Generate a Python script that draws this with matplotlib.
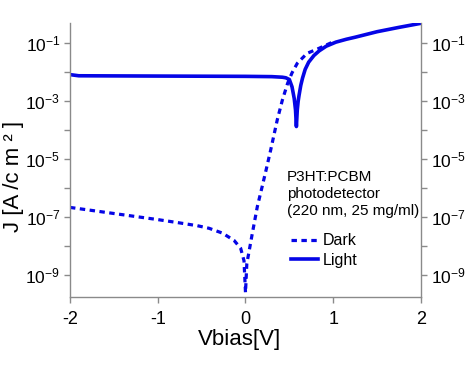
import matplotlib
matplotlib.use('Agg')
import matplotlib.pyplot as plt
import numpy as np
from matplotlib.ticker import FixedLocator, FixedFormatter, NullFormatter
from matplotlib.lines import Line2D

# ---- data ----
dark_v = [-2.0, -1.5, -1.0, -0.76, -0.55, -0.415, -0.26, -0.13, -0.055, -0.017, 0.0,
          0.015, 0.04, 0.078, 0.135, 0.19, 0.24, 0.287, 0.362, 0.42, 0.48, 0.53,
          0.59, 0.70, 0.84, 1.0]
dark_logj = [-6.66, -6.87, -7.08, -7.19, -7.29, -7.38, -7.55, -7.80, -8.07, -8.50, -9.60,
             -8.60, -8.19, -7.55, -6.63, -5.94, -5.30, -4.68, -3.64, -2.96, -2.38, -2.02,
             -1.69, -1.35, -1.17, -0.95]
light_v = [-2.0, -1.9, -1.0, 0.0, 0.30, 0.42, 0.46, 0.50, 0.53, 0.555, 0.57, 0.58,
           0.59, 0.60, 0.61, 0.63, 0.65, 0.68, 0.72, 0.78, 0.84, 0.92, 1.03, 1.15, 1.25,
           1.50, 1.75, 2.0]
light_logj = [-2.08, -2.12, -2.13, -2.14, -2.15, -2.17, -2.19, -2.25, -2.50, -2.90, -3.30, -3.87,
              -3.30, -3.00, -2.80, -2.45, -2.20, -1.90, -1.65, -1.42, -1.26, -1.10, -0.96, -0.86, -0.79,
              -0.60, -0.45, -0.31]
x_ticks = [-2, -1, 0, 1, 2]
x_ticklabels = ['-2', '-1', '0', '1', '2']
y_major_exp = [-9, -7, -5, -3, -1]
y_minor_exp = [-8, -6, -4, -2]
legend_labels = ['Dark', 'Light']
note_text = 'P3HT:PCBM\nphotodetector\n(220 nm, 25 mg/ml)'

dark_j = [10.0 ** e for e in dark_logj]
light_j = [10.0 ** e for e in light_logj]

plt.rcParams['font.family'] = ['Liberation Sans', 'DejaVu Sans']
plt.rcParams['mathtext.fontset'] = 'custom'
plt.rcParams['mathtext.rm'] = 'Liberation Sans'
plt.rcParams['mathtext.it'] = 'Liberation Sans'
plt.rcParams['mathtext.default'] = 'regular'

blue = '#0505e6'
gray = '#8a8a8a'

fig = plt.figure(figsize=(4.74, 3.65), dpi=100)
ax = fig.add_axes([70/474, 1-297.3/365, (421-70)/474, (297.3-23)/365])

ax.plot(dark_v, dark_j, color=blue, lw=2.3, dashes=(1.7, 1.4), solid_capstyle='butt')
ax.plot(light_v, light_j, color=blue, lw=2.6)

ax.set_yscale('log')
ax.set_xlim(-2, 2)
ax.set_ylim(10**-9.76, 10**-0.3)

ax.xaxis.set_major_locator(FixedLocator(x_ticks))
ax.xaxis.set_major_formatter(FixedFormatter(x_ticklabels))
ax.yaxis.set_major_locator(FixedLocator([10.0**e for e in y_major_exp]))
ax.yaxis.set_major_formatter(FixedFormatter(['10$^{%d}$' % e for e in y_major_exp]))
ax.yaxis.set_minor_locator(FixedLocator([10.0**e for e in y_minor_exp]))
ax.yaxis.set_minor_formatter(NullFormatter())

for s in ['left', 'bottom', 'right']:
    ax.spines[s].set_color(gray)
    ax.spines[s].set_linewidth(1.0)
ax.spines['top'].set_visible(False)

ax.tick_params(axis='both', which='both', direction='out', color=gray, width=1.0,
               length=4, labelsize=12.5, labelcolor='black')
ax.tick_params(axis='y', which='both', left=True, right=True, labelleft=True,
               labelright=True, pad=3)
ax.tick_params(axis='x', pad=6, labelsize=13)

fig.text(14/474, 1-176/365, 'J [A /c m ² ]', rotation=90, ha='center', va='center',
         fontsize=16)
fig.text(240/474, 1-339/365, 'Vbias[V]', ha='center', va='center', fontsize=16)

fig.text(287/474, 1-170/365, note_text, ha='left', va='top', fontsize=11,
         linespacing=1.25)

handles = [Line2D([], [], color=blue, lw=2.3, dashes=(1.7, 1.4)),
           Line2D([], [], color=blue, lw=2.6)]
leg = fig.legend(handles, legend_labels, loc='upper left',
                 bbox_to_anchor=(280/474, 1-222/365), frameon=False, fontsize=11.5,
                 handlelength=1.7, handletextpad=0.3, labelspacing=0.3, borderpad=0.2)

fig.savefig('out.png', dpi=100)
